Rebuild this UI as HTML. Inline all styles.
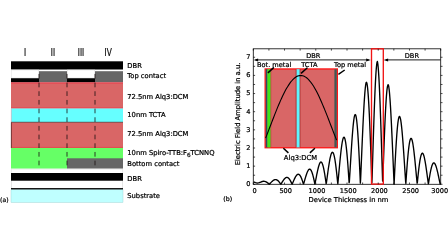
<!DOCTYPE html><html><head><meta charset="utf-8"><title>Figure</title><style>html,body{margin:0;padding:0;background:#fff}svg{display:block}text{font-family:"DejaVu Sans","Liberation Sans",sans-serif;fill:#000;stroke:#000;stroke-width:0.22px}.r{font-family:"Liberation Sans",sans-serif}</style></head><body>
<svg width="448" height="252" viewBox="0 0 448 252">
<rect width="448" height="252" fill="#fff"/>
<text class="r" transform="translate(25.1,55.8) scale(0.76,1)" font-size="10" text-anchor="middle" fill="#000" stroke-width="0.6">I</text>
<text class="r" transform="translate(52.9,55.8) scale(0.76,1)" font-size="10" text-anchor="middle" fill="#000" stroke-width="0.6">II</text>
<text class="r" transform="translate(81.0,55.8) scale(0.76,1)" font-size="10" text-anchor="middle" fill="#000" stroke-width="0.6">III</text>
<text class="r" transform="translate(108.2,55.8) scale(0.76,1)" font-size="10" text-anchor="middle" fill="#000" stroke-width="0.6">IV</text>
<rect x="11.00" y="61.30" width="112.00" height="8.20" fill="#000" />
<rect x="11.00" y="78.00" width="28.00" height="4.50" fill="#000" />
<rect x="11.25" y="70" width="27.5" height="8" fill="#fff" stroke="#ddd" stroke-width="0.5"/>
<rect x="39.00" y="71.20" width="28.00" height="11.30" fill="#666666" />
<rect x="67.00" y="78.00" width="28.00" height="4.50" fill="#000" />
<rect x="67.25" y="70" width="27.5" height="8" fill="#fff" stroke="#ddd" stroke-width="0.5"/>
<rect x="95.00" y="71.20" width="28.00" height="11.30" fill="#666666" />
<rect x="11.00" y="82.50" width="112.00" height="26.00" fill="#d96666" />
<path d="M11.0,83.0 H123.0 M11.0,108.0 H123.0" stroke="#ee3a4a" stroke-width="1" fill="none"/>
<rect x="11.00" y="108.50" width="112.00" height="13.50" fill="#66ffff" />
<line x1="11.3" x2="11.3" y1="108.7" y2="122" stroke="#f0a0b0" stroke-width="0.6"/>
<rect x="11.00" y="122.30" width="112.00" height="25.80" fill="#d96666" />
<path d="M11.0,147.4 H123.0" stroke="#ee3a4a" stroke-width="1" fill="none"/>
<path d="M11.35,148 V122.25 H123.0" stroke="#3a1818" stroke-width="0.65" fill="none"/>
<rect x="11.00" y="147.90" width="112.00" height="11.10" fill="#66ff66" />
<rect x="11.00" y="158.00" width="56.20" height="10.60" fill="#66ff66" />
<rect x="67.00" y="158.30" width="56.00" height="10.30" fill="#666666" />
<rect x="11.25" y="180" width="111.5" height="8.4" fill="#fff" stroke="#ccc" stroke-width="0.5"/>
<rect x="11.25" y="169.1" width="111.5" height="4.5" fill="#fff" stroke="#ddd" stroke-width="0.5"/>
<rect x="11.00" y="173.00" width="112.00" height="7.70" fill="#000" />
<rect x="11.00" y="188.10" width="112.00" height="1.70" fill="#000" />
<rect x="11.00" y="189.80" width="112.00" height="12.70" fill="#bfffff" stroke="#9cc" stroke-width="0.4"/>
<line x1="39" x2="39" y1="73.93" y2="168.6" stroke="#1a1010" stroke-width="0.8" stroke-dasharray="4.7 3.97"/>
<line x1="67" x2="67" y1="73.93" y2="168.6" stroke="#1a1010" stroke-width="0.8" stroke-dasharray="4.7 3.97"/>
<line x1="95" x2="95" y1="73.93" y2="168.6" stroke="#1a1010" stroke-width="0.8" stroke-dasharray="4.7 3.97"/>
<text x="127.3" y="68.1" font-size="6.75">DBR</text>
<text x="127.3" y="77.9" font-size="6.75">Top contact</text>
<text x="127.3" y="99.2" font-size="6.75">72.5nm Alq3:DCM</text>
<text x="127.3" y="117.3" font-size="6.75">10nm TCTA</text>
<text x="127.3" y="136.1" font-size="6.75">72.5nm Alq3:DCM</text>
<text x="127.3" y="165.6" font-size="6.75">Bottom contact</text>
<text x="127.3" y="181.1" font-size="6.75">DBR</text>
<text x="127.3" y="198.1" font-size="6.75">Substrate</text>
<text x="127.3" y="155.1" font-size="6.75">10nm Spiro-TTB:F<tspan font-size="5.74" dy="1.5">6</tspan><tspan dy="-1.5">TCNNQ</tspan></text>
<text x="0.1" y="201.7" font-size="6.1">(a)</text>
<text x="223.2" y="201.1" font-size="6.3">(b)</text>
<rect x="265.15" y="68.95" width="72.20" height="78.80" fill="#d96666" stroke="#ff1414" stroke-width="1.3"/>
<rect x="265.80" y="69.20" width="1.70" height="78.20" fill="#2a4d63" />
<rect x="267.40" y="69.20" width="3.30" height="78.20" fill="#3fe61a" />
<line x1="270.9" x2="270.9" y1="69" y2="147.5" stroke="#c03030" stroke-width="0.5"/>
<rect x="296.30" y="69.20" width="3.60" height="78.20" fill="#5ef6ff" />
<line x1="296.1" x2="296.1" y1="69.2" y2="147.4" stroke="#a02020" stroke-width="0.7"/>
<line x1="300.0" x2="300.0" y1="69.2" y2="147.4" stroke="#a02020" stroke-width="0.7"/>
<rect x="334.40" y="69.20" width="2.30" height="78.20" fill="#3f5854" />
<polyline fill="none" stroke="#000" stroke-width="1.1" points="265.6,138.1 266.6,135.6 267.6,133.0 268.6,130.4 269.6,127.8 270.6,125.2 271.6,122.6 272.6,120.0 273.6,117.5 274.6,114.9 275.6,112.4 276.6,109.9 277.6,107.4 278.6,105.0 279.6,102.7 280.6,100.4 281.6,98.2 282.6,96.1 283.6,94.0 284.6,92.0 285.6,90.1 286.6,88.3 287.6,86.7 288.6,85.1 289.6,83.6 290.6,82.2 291.6,81.0 292.6,79.9 293.6,78.9 294.6,78.0 295.6,77.2 296.6,76.6 297.6,76.1 298.6,75.8 299.6,75.6 300.6,75.5 301.6,75.6 302.6,75.7 303.6,76.1 304.6,76.5 305.6,77.1 306.6,77.8 307.6,78.7 308.6,79.7 309.6,80.8 310.6,82.0 311.6,83.3 312.6,84.8 313.6,86.3 314.6,88.0 315.6,89.8 316.6,91.6 317.6,93.6 318.6,95.6 319.6,97.8 320.6,100.0 321.6,102.2 322.6,104.6 323.6,107.0 324.6,109.4 325.6,111.9 326.6,114.4 327.6,116.9 328.6,119.5 329.6,122.1 330.6,124.7 331.6,127.3 332.6,129.9 333.6,132.5 334.6,135.0 335.6,137.6 336.6,140.1"/>
<line x1="273.9" y1="67.4" x2="267.9" y2="72.9" stroke="#000" stroke-width="1.5"/>
<line x1="307.4" y1="67.7" x2="301.0" y2="73.4" stroke="#000" stroke-width="1.5"/>
<line x1="344.7" y1="70.0" x2="338.4" y2="74.3" stroke="#000" stroke-width="1.5"/>
<line x1="283.4" y1="148.3" x2="288.4" y2="152.9" stroke="#000" stroke-width="1.5"/>
<line x1="314.9" y1="148.3" x2="309.9" y2="152.9" stroke="#000" stroke-width="1.5"/>
<text x="257.0" y="66.7" font-size="6.6">Bot. metal</text>
<text x="301.2" y="66.7" font-size="6.6">TCTA</text>
<text x="334.0" y="66.7" font-size="6.6">Top metal</text>
<text x="300.5" y="159.8" font-size="6.8" text-anchor="middle">Alq3:DCM</text>
<text x="313.3" y="57.6" font-size="6.6" text-anchor="middle">DBR</text>
<text x="411.9" y="57.6" font-size="6.6" text-anchor="middle">DBR</text>
<line x1="255.6" x2="368.7" y1="59.9" y2="59.9" stroke="#000" stroke-width="0.9"/>
<path d="M253.6,59.9 l4.5,-1.5 v3 z" fill="#000"/>
<path d="M370.7,59.9 l-4.5,-1.5 v3 z" fill="#000"/>
<line x1="386" x2="440.7" y1="59.9" y2="59.9" stroke="#000" stroke-width="0.9"/>
<path d="M383.6,59.9 l4.5,-1.5 v3 z" fill="#000"/>
<polyline fill="none" stroke="#000" stroke-width="1.35" stroke-linejoin="round" points="253.50,181.94 255.50,182.67 257.30,183.12 259.30,182.67 261.50,181.76 263.60,181.12 265.60,181.58 267.40,182.67 268.60,183.66 269.30,184.30 269.60,183.98 269.85,183.71 270.10,183.44 270.35,183.17 270.60,182.90 270.85,182.63 271.10,182.37 271.35,182.11 271.60,181.86 271.85,181.61 272.10,181.37 272.35,181.15 272.60,180.93 272.85,180.72 273.10,180.53 273.35,180.36 273.60,180.20 273.85,180.06 274.10,179.93 274.35,179.82 274.60,179.74 274.85,179.67 275.10,179.62 275.35,179.60 275.60,179.60 275.85,179.62 276.10,179.66 276.35,179.73 276.60,179.82 276.85,179.93 277.10,180.06 277.35,180.22 277.60,180.40 277.85,180.60 278.10,180.82 278.35,181.06 278.60,181.33 278.85,181.61 279.10,181.90 279.35,182.22 279.60,182.55 279.85,182.89 280.10,183.25 280.35,183.62 280.60,183.99 280.85,184.22 281.10,183.82 281.35,183.42 281.60,183.02 281.85,182.61 282.10,182.21 282.35,181.81 282.60,181.41 282.85,181.02 283.10,180.65 283.35,180.28 283.60,179.93 283.85,179.59 284.10,179.27 284.35,178.97 284.60,178.69 284.85,178.44 285.10,178.21 285.35,178.00 285.60,177.83 285.85,177.68 286.10,177.56 286.35,177.47 286.60,177.42 286.85,177.40 287.10,177.41 287.35,177.46 287.60,177.54 287.85,177.66 288.10,177.81 288.35,178.00 288.60,178.22 288.85,178.48 289.10,178.76 289.35,179.08 289.60,179.43 289.85,179.81 290.10,180.22 290.35,180.66 290.60,181.12 290.85,181.60 291.10,182.11 291.35,182.63 291.60,183.18 291.85,183.73 292.10,184.30 292.35,183.73 292.60,183.15 292.85,182.57 293.10,181.98 293.35,181.40 293.60,180.82 293.85,180.25 294.10,179.69 294.35,179.14 294.60,178.61 294.85,178.09 295.10,177.60 295.35,177.14 295.60,176.70 295.85,176.29 296.10,175.91 296.35,175.56 296.60,175.26 296.85,174.99 297.10,174.76 297.35,174.58 297.60,174.43 297.85,174.34 298.10,174.28 298.35,174.27 298.60,174.31 298.85,174.40 299.10,174.54 299.35,174.72 299.60,174.96 299.85,175.25 300.10,175.59 300.35,175.97 300.60,176.41 300.85,176.89 301.10,177.41 301.35,177.98 301.60,178.59 301.85,179.24 302.10,179.93 302.35,180.64 302.60,181.39 302.85,182.17 303.10,182.97 303.35,183.80 303.60,183.96 303.85,183.11 304.10,182.24 304.35,181.37 304.60,180.50 304.85,179.63 305.10,178.77 305.35,177.92 305.60,177.08 305.85,176.26 306.10,175.47 306.35,174.71 306.60,173.98 306.85,173.28 307.10,172.63 307.35,172.02 307.60,171.46 307.85,170.96 308.10,170.51 308.35,170.11 308.60,169.78 308.85,169.52 309.10,169.32 309.35,169.19 309.60,169.14 309.85,169.17 310.10,169.26 310.35,169.44 310.60,169.68 310.85,170.01 311.10,170.40 311.35,170.87 311.60,171.42 311.85,172.04 312.10,172.72 312.35,173.48 312.60,174.30 312.85,175.18 313.10,176.12 313.35,177.12 313.60,178.17 313.85,179.27 314.10,180.41 314.35,181.59 314.60,182.81 314.85,184.05 315.10,183.28 315.35,181.99 315.60,180.68 315.85,179.38 316.10,178.07 316.35,176.77 316.60,175.49 316.85,174.23 317.10,173.00 317.35,171.80 317.60,170.64 317.85,169.53 318.10,168.48 318.35,167.48 318.60,166.55 318.85,165.70 319.10,164.92 319.35,164.22 319.60,163.61 319.85,163.09 320.10,162.67 320.35,162.34 320.60,162.13 320.85,162.03 321.10,162.03 321.35,162.15 321.60,162.38 321.85,162.72 322.10,163.17 322.35,163.74 322.60,164.41 322.85,165.20 323.10,166.09 323.35,167.08 323.60,168.17 323.85,169.36 324.10,170.65 324.35,172.02 324.60,173.47 324.85,175.00 325.10,176.60 325.35,178.27 325.60,179.99 325.85,181.76 326.10,183.57 326.35,183.22 326.60,181.40 326.85,179.57 327.10,177.73 327.35,175.89 327.60,174.06 327.85,172.25 328.10,170.47 328.35,168.72 328.60,167.02 328.85,165.38 329.10,163.79 329.35,162.28 329.60,160.84 329.85,159.49 330.10,158.24 330.35,157.09 330.60,156.05 330.85,155.12 331.10,154.32 331.35,153.64 331.60,153.10 331.85,152.69 332.10,152.42 332.35,152.28 332.60,152.30 332.85,152.46 333.10,152.77 333.35,153.24 333.60,153.86 333.85,154.64 334.10,155.57 334.35,156.65 334.60,157.87 334.85,159.24 335.10,160.75 335.35,162.40 335.60,164.18 335.85,166.08 336.10,168.10 336.35,170.23 336.60,172.46 336.85,174.79 337.10,177.20 337.35,179.68 337.60,182.22 337.85,183.77 338.10,181.08 338.35,178.36 338.60,175.63 338.85,172.89 339.10,170.16 339.35,167.46 339.60,164.79 339.85,162.17 340.10,159.61 340.35,157.13 340.60,154.74 340.85,152.46 341.10,150.28 341.35,148.24 341.60,146.34 341.85,144.59 342.10,143.00 342.35,141.59 342.60,140.36 342.85,139.33 343.10,138.49 343.35,137.86 343.60,137.44 343.85,137.24 344.10,137.25 344.35,137.50 344.60,137.98 344.85,138.69 345.10,139.63 345.35,140.81 345.60,142.22 345.85,143.87 346.10,145.73 346.35,147.82 346.60,150.12 346.85,152.63 347.10,155.33 347.35,158.23 347.60,161.30 347.85,164.54 348.10,167.93 348.35,171.46 348.60,175.11 348.85,178.88 349.10,182.74 349.35,181.89 349.60,177.83 349.85,173.73 350.10,169.61 350.35,165.50 350.60,161.40 350.85,157.35 351.10,153.36 351.35,149.46 351.60,145.67 351.85,142.00 352.10,138.48 352.35,135.13 352.60,131.97 352.85,129.02 353.10,126.29 353.35,123.81 353.60,121.59 353.85,119.65 354.10,117.99 354.35,116.64 354.60,115.61 354.85,114.91 355.10,114.56 355.35,114.55 355.60,114.90 355.85,115.60 356.10,116.66 356.35,118.07 356.60,119.84 356.85,121.97 357.10,124.45 357.35,127.27 357.60,130.43 357.85,133.91 358.10,137.70 358.35,141.80 358.60,146.17 358.85,150.82 359.10,155.71 359.35,160.83 359.60,166.15 359.85,171.66 360.10,177.33 360.35,183.13 360.60,179.69 360.85,173.87 361.10,167.99 361.35,162.09 361.60,156.20 361.85,150.34 362.10,144.54 362.35,138.83 362.60,133.24 362.85,127.80 363.10,122.54 363.35,117.48 363.60,112.66 363.85,108.09 364.10,103.81 364.35,99.84 364.60,96.20 364.85,92.92 365.10,90.03 365.35,87.53 365.60,85.46 365.85,83.81 366.10,82.63 366.35,82.25 366.60,82.44 366.85,83.11 367.10,84.26 367.35,85.89 367.60,88.00 367.85,90.58 368.10,93.62 368.35,97.11 368.60,101.04 368.85,105.40 369.10,110.16 369.35,115.32 369.60,120.84 369.85,126.70 370.10,132.89 370.35,139.37 370.60,146.12 370.85,153.10 371.10,160.29 371.35,167.65 371.60,175.16 371.85,182.77 372.10,177.75 372.35,169.54 372.60,161.33 372.85,153.18 373.10,145.12 373.35,137.21 373.60,129.48 373.85,121.97 374.10,114.73 374.35,107.80 374.60,101.23 374.85,95.03 375.10,89.26 375.35,83.95 375.60,79.13 375.85,74.82 376.10,71.07 376.35,67.88 376.60,65.29 376.85,63.31 377.10,61.95 377.35,61.46 377.60,62.51 377.85,64.18 378.10,66.48 378.35,69.37 378.60,72.84 378.85,76.87 379.10,81.43 379.35,86.49 379.60,92.02 379.85,97.98 380.10,104.34 380.35,111.07 380.60,118.11 380.85,125.44 381.10,133.01 381.35,140.77 381.60,148.69 381.85,156.73 382.10,164.83 382.35,172.96 382.60,181.07 382.85,179.73 383.10,172.20 383.35,164.80 383.60,157.56 383.85,150.52 384.10,143.70 384.35,137.15 384.60,130.88 384.85,124.92 385.10,119.30 385.35,114.05 385.60,109.18 385.85,104.71 386.10,100.66 386.35,97.05 386.60,93.88 386.85,91.18 387.10,88.94 387.35,87.18 387.60,85.89 387.85,85.09 388.10,84.76 388.35,84.91 388.60,85.81 388.85,87.24 389.10,89.11 389.35,91.40 389.60,94.10 389.85,97.18 390.10,100.63 390.35,104.42 390.60,108.53 390.85,112.93 391.10,117.59 391.35,122.50 391.60,127.62 391.85,132.93 392.10,138.39 392.35,143.99 392.60,149.68 392.85,155.44 393.10,161.24 393.35,167.05 393.60,172.85 393.85,178.61 394.10,184.30 394.35,178.85 394.60,173.51 394.85,168.32 395.10,163.28 395.35,158.42 395.60,153.76 395.85,149.32 396.10,145.11 396.35,141.15 396.60,137.45 396.85,134.03 397.10,130.89 397.35,128.04 397.60,125.50 397.85,123.27 398.10,121.35 398.35,119.75 398.60,118.47 398.85,117.51 399.10,116.86 399.35,116.54 399.60,116.53 399.85,116.82 400.10,117.42 400.35,118.31 400.60,119.48 400.85,120.93 401.10,122.64 401.35,124.60 401.60,126.80 401.85,129.23 402.10,131.86 402.35,134.69 402.60,137.69 402.85,140.86 403.10,144.17 403.35,147.61 403.60,151.16 403.85,154.80 404.10,158.51 404.35,162.28 404.60,166.08 404.85,169.90 405.10,173.73 405.35,177.54 405.60,181.31 405.85,183.54 406.10,179.78 406.35,176.11 406.60,172.54 406.85,169.08 407.10,165.75 407.35,162.57 407.60,159.54 407.85,156.69 408.10,154.01 408.35,151.52 408.60,149.23 408.85,147.15 409.10,145.27 409.35,143.62 409.60,142.19 409.85,140.98 410.10,140.00 410.35,139.24 410.60,138.72 410.85,138.42 411.10,138.34 411.35,138.49 411.60,138.86 411.85,139.44 412.10,140.23 412.35,141.21 412.60,142.39 412.85,143.74 413.10,145.26 413.35,146.95 413.60,148.78 413.85,150.75 414.10,152.85 414.35,155.07 414.60,157.38 414.85,159.79 415.10,162.27 415.35,164.81 415.60,167.40 415.85,170.03 416.10,172.68 416.35,175.35 416.60,178.00 416.85,180.65 417.10,183.26 417.35,182.73 417.60,180.16 417.85,177.66 418.10,175.23 418.35,172.89 418.60,170.64 418.85,168.50 419.10,166.47 419.35,164.57 419.60,162.80 419.85,161.16 420.10,159.67 420.35,158.32 420.60,157.13 420.85,156.09 421.10,155.21 421.35,154.49 421.60,153.92 421.85,153.52 422.10,153.28 422.35,153.19 422.60,153.26 422.85,153.48 423.10,153.83 423.35,154.33 423.60,154.97 423.85,155.75 424.10,156.65 424.35,157.68 424.60,158.82 424.85,160.06 425.10,161.41 425.35,162.85 425.60,164.37 425.85,165.97 426.10,167.63 426.35,169.34 426.60,171.10 426.85,172.90 427.10,174.73 427.35,176.57 427.60,178.42 427.85,180.28 428.10,182.12 428.35,183.94 428.60,182.94 428.85,181.27 429.10,179.64 429.35,178.06 429.60,176.53 429.85,175.06 430.10,173.65 430.35,172.32 430.60,171.06 430.85,169.88 431.10,168.78 431.35,167.77 431.60,166.85 431.85,166.03 432.10,165.29 432.35,164.66 432.60,164.12 432.85,163.68 433.10,163.34 433.35,163.10 433.60,162.96 433.85,162.91 434.10,162.96 434.35,163.11 434.60,163.34 434.85,163.67 435.10,164.08 435.35,164.58 435.60,165.16 435.85,165.81 436.10,166.53 436.35,167.33 436.60,168.18 436.85,169.09 437.10,170.06 437.35,171.07 437.60,172.13 437.85,173.22 438.10,174.35 438.35,175.50 438.60,176.67 438.85,177.86 439.10,179.06 439.35,180.26 439.60,181.46 439.85,182.65 440.10,183.83 440.35,184.30 440.60,184.30"/>
<rect x="253.3" y="48.8" width="187.39999999999998" height="135.5" fill="none" stroke="#111" stroke-width="0.85"/>
<rect x="371.5" y="48.8" width="11.8" height="135.3" fill="none" stroke="#f01414" stroke-width="1.35"/>
<path d="M253.30,184.3 v-1.8 M253.30,48.8 v1.8 M268.92,184.3 v-1.8 M268.92,48.8 v1.8 M284.53,184.3 v-1.8 M284.53,48.8 v1.8 M300.15,184.3 v-1.8 M300.15,48.8 v1.8 M315.77,184.3 v-1.8 M315.77,48.8 v1.8 M331.38,184.3 v-1.8 M331.38,48.8 v1.8 M347.00,184.3 v-1.8 M347.00,48.8 v1.8 M362.62,184.3 v-1.8 M362.62,48.8 v1.8 M378.23,184.3 v-1.8 M378.23,48.8 v1.8 M393.85,184.3 v-1.8 M393.85,48.8 v1.8 M409.47,184.3 v-1.8 M409.47,48.8 v1.8 M425.08,184.3 v-1.8 M425.08,48.8 v1.8 M440.70,184.3 v-1.8 M440.70,48.8 v1.8 M253.3,184.30 h1.8 M440.7,184.30 h1.8 M253.3,175.23 h1.8 M440.7,175.23 h1.8 M253.3,166.15 h1.8 M440.7,166.15 h1.8 M253.3,157.08 h1.8 M440.7,157.08 h1.8 M253.3,148.00 h1.8 M440.7,148.00 h1.8 M253.3,138.93 h1.8 M440.7,138.93 h1.8 M253.3,129.85 h1.8 M440.7,129.85 h1.8 M253.3,120.78 h1.8 M440.7,120.78 h1.8 M253.3,111.70 h1.8 M440.7,111.70 h1.8 M253.3,102.63 h1.8 M440.7,102.63 h1.8 M253.3,93.55 h1.8 M440.7,93.55 h1.8 M253.3,84.48 h1.8 M440.7,84.48 h1.8 M253.3,75.40 h1.8 M440.7,75.40 h1.8 M253.3,66.33 h1.8 M440.7,66.33 h1.8 M253.3,57.25 h1.8 M440.7,57.25 h1.8" stroke="#000" stroke-width="0.7" fill="none"/>
<text x="254.50" y="193.2" font-size="6.6" text-anchor="middle">0</text>
<text x="285.73" y="193.2" font-size="6.6" text-anchor="middle">500</text>
<text x="316.97" y="193.2" font-size="6.6" text-anchor="middle">1000</text>
<text x="348.20" y="193.2" font-size="6.6" text-anchor="middle">1500</text>
<text x="379.43" y="193.2" font-size="6.6" text-anchor="middle">2000</text>
<text x="410.67" y="193.2" font-size="6.6" text-anchor="middle">2500</text>
<text x="439.70" y="193.2" font-size="6.6" text-anchor="middle">3000</text>
<text x="250.4" y="186.40" font-size="6.6" text-anchor="end">0</text>
<text x="250.4" y="168.20" font-size="6.6" text-anchor="end">1</text>
<text x="250.4" y="150.00" font-size="6.6" text-anchor="end">2</text>
<text x="250.4" y="131.80" font-size="6.6" text-anchor="end">3</text>
<text x="250.4" y="113.60" font-size="6.6" text-anchor="end">4</text>
<text x="250.4" y="95.40" font-size="6.6" text-anchor="end">5</text>
<text x="250.4" y="77.20" font-size="6.6" text-anchor="end">6</text>
<text x="250.4" y="59.00" font-size="6.6" text-anchor="end">7</text>
<text x="348.5" y="202.1" font-size="6.75" text-anchor="middle">Device Thickness in nm</text>
<text transform="translate(239.8,114.0) rotate(-90)" font-size="6.75" text-anchor="middle">Electric Field Amplitude in a.u.</text>
</svg></body></html>
